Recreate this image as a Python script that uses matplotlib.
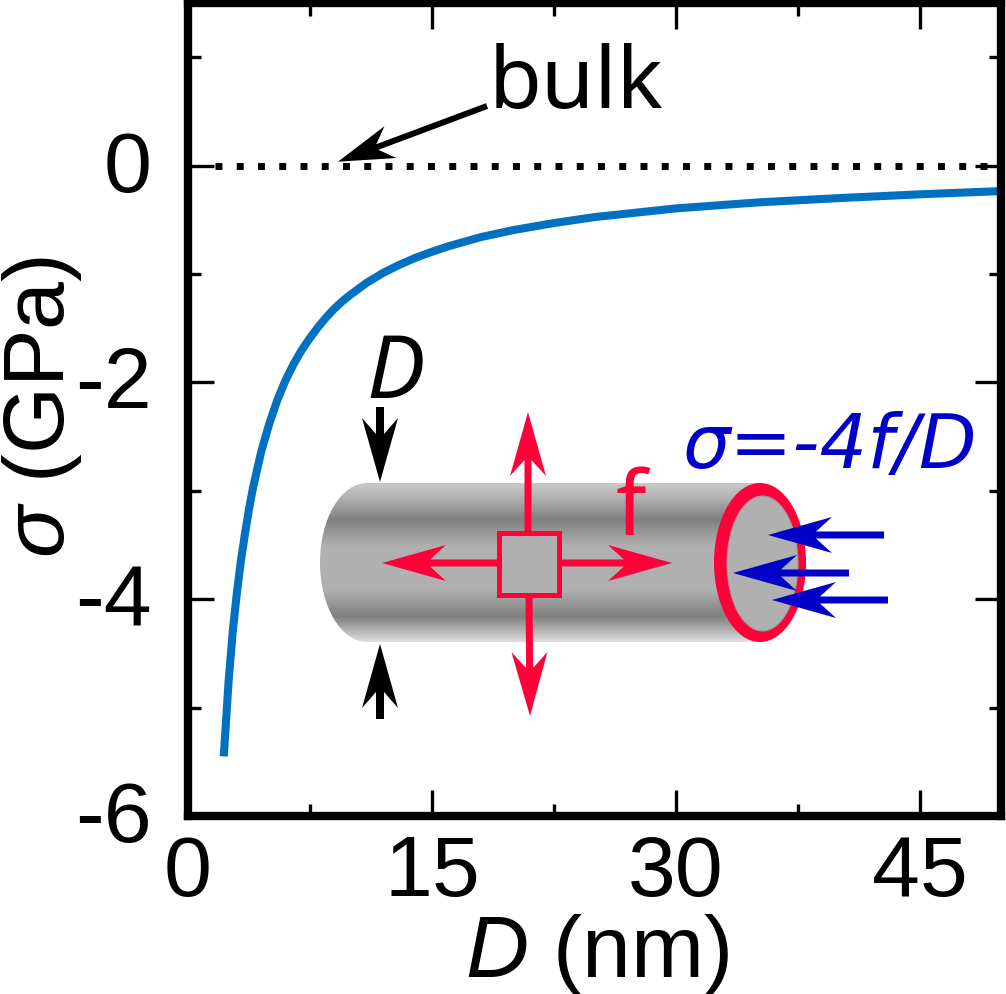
import numpy as np
import matplotlib
matplotlib.use("Agg")
import matplotlib.pyplot as plt
from matplotlib.patches import Ellipse, Polygon, Rectangle
from matplotlib.ticker import MultipleLocator
from matplotlib.transforms import ScaledTranslation

plt.rcParams["font.family"] = ["Liberation Sans", "DejaVu Sans"]
plt.rcParams["mathtext.fontset"] = "custom"
plt.rcParams["mathtext.rm"] = "Liberation Sans"
plt.rcParams["mathtext.it"] = "Liberation Sans:italic"
plt.rcParams["axes.unicode_minus"] = False

# --------------------------------------------------
# Values
# --------------------------------------------------
diameter = [2.2, 2.5, 2.75, 3, 3.25, 3.5, 3.75, 4, 4.5, 5, 5.5, 6, 6.5, 7, 7.5, 8, 8.5, 9, 9.5, 10, 11, 12,
            13, 14, 15, 16, 18, 20, 22.5, 25, 30, 35, 40, 45, 50]
stress = [-5.45, -4.75, -4.3, -3.95, -3.65, -3.4, -3.17, -2.97, -2.64, -2.38, -2.16, -1.98, -1.83, -1.70,
          -1.59, -1.49, -1.40, -1.32, -1.25, -1.19, -1.08, -0.99, -0.915, -0.85, -0.795, -0.745, -0.66,
          -0.595, -0.53, -0.475, -0.395, -0.34, -0.30, -0.265, -0.235]
bulk_x = [1.63, 50]
bulk_y = [0, 0]
x_ticks = [0, 15, 30, 45]
y_ticks = [-6, -4, -2, 0]

RED = "#FF0038"
BLUE = "#0000C8"
CURVE = "#0070C0"
W, H = 1006, 995

# --------------------------------------------------
# Main plot
# --------------------------------------------------
fig = plt.figure(figsize=(W / 100, H / 100), dpi=100)
ax = fig.add_axes([188 / W, (H - 817) / H, (1001 - 188) / W, (817 - 4) / H])
ax.plot(diameter, stress, color=CURVE, lw=5.8, solid_capstyle="butt", solid_joinstyle="round")
ax.plot(bulk_x, bulk_y, color="black", lw=5, ls=(0, (1, 2.06)), dash_capstyle="butt")
ax.set_xlim(0, 50)
ax.set_ylim(-6, 1.5)
ax.set_xticks(x_ticks)
ax.set_yticks(y_ticks)
ax.xaxis.set_minor_locator(MultipleLocator(7.5))
ax.yaxis.set_minor_locator(MultipleLocator(1))
ax.tick_params(which="major", direction="in", top=True, right=True, length=18.5, width=2.4, labelsize=62)
ax.tick_params(which="minor", direction="in", top=True, right=True, length=9, width=2.4)
ax.tick_params(axis="x", which="major", pad=12)
ax.tick_params(axis="y", which="major", pad=26)
lift = ScaledTranslation(0, 6 / 100, fig.dpi_scale_trans)
for label in ax.get_yticklabels():
    label.set_transform(label.get_transform() + lift)
for spine in ax.spines.values():
    spine.set_linewidth(6)

# --------------------------------------------------
# Overlay in pixel coordinates for the labels and the sketch
# --------------------------------------------------
ov = fig.add_axes([0, 0, 1, 1], facecolor="none")
ov.axis("off")


def arrow(tail, tip, color, shaft=7, head=64, notch=48, half=18):
    tail = np.array(tail, float)
    tip = np.array(tip, float)
    d = (tip - tail) / np.hypot(*(tip - tail))
    n = np.array([-d[1], d[0]])
    pts = [tail + n * shaft / 2, tip - d * notch + n * shaft / 2, tip - d * head + n * half, tip,
           tip - d * head - n * half, tip - d * notch - n * shaft / 2, tail - n * shaft / 2]
    ov.add_patch(Polygon(pts, closed=True, fc=color, ec="none", zorder=6))


# cylinder body with the banded shading
stops_y = [484, 495, 520, 547, 590, 617, 630, 643]
stops_c = [0.78, 0.72, 0.50, 0.69, 0.69, 0.50, 0.69, 0.88]
shade = np.interp(np.arange(484, 643), stops_y, stops_c).reshape(-1, 1)
ov.imshow(shade, cmap="gray", vmin=0, vmax=1, extent=(367, 760, 643, 484), aspect="auto", zorder=2)
cap = ov.imshow(shade, cmap="gray", vmin=0, vmax=1, extent=(320, 367, 643, 484), aspect="auto", zorder=2)
cap_clip = Ellipse((367, 563.5), 94, 159, transform=ov.transData)
cap.set_clip_path(cap_clip)

# end face, the ring is thicker on the left
ov.add_patch(Ellipse((760, 563.5), 92, 159, fc=RED, ec="none", zorder=3))
ov.add_patch(Ellipse((762.5, 564.5), 71, 135, fc="#B0B0B0", ec="#999999", lw=0.8, zorder=3))

# element with the surface stress
ov.add_patch(Rectangle((499.5, 533.5), 60, 62.5, fc="#B0B0B0", ec=RED, lw=3.6, zorder=5))
arrow((528, 532), (528, 413), RED)
arrow((529, 597), (530, 717), RED)
arrow((498, 564), (382, 564), RED)
arrow((560, 564), (672, 564), RED)

# diameter arrows and bulk pointer
arrow((380, 408), (380, 483), "black", shaft=8)
arrow((380, 720), (380, 645), "black", shaft=8)
arrow((487, 107), (338, 162.7), "black", shaft=6, head=56, notch=42, half=17)

# pressure arrows
arrow((884, 536), (768, 536), BLUE)
arrow((849, 574), (733, 574), BLUE)
arrow((888, 601), (772, 601), BLUE)

ov.text(576, 108, "bulk", fontsize=62, ha="center", va="baseline", family=["Noto Sans"])
ov.text(396, 398, "D", fontsize=63, ha="center", va="baseline", color="black", style="italic",
        family=["Noto Sans"])
ov.text(631, 535, "f", fontsize=64, ha="center", va="baseline", color=RED, family=["Noto Sans"])
ov.text(683, 468, "σ=-4f/D", fontsize=54, ha="left", va="baseline", color=BLUE, style="italic",
        family=["DejaVu Sans"])
ov.text(597, 977, r"$\mathit{D}$ (nm)", fontsize=63, ha="center", va="baseline")
ov.text(42, 407, r"$\mathit{σ}$ (GPa)", fontsize=62, ha="center", va="center", rotation=90)
ov.set_xlim(0, W)
ov.set_ylim(H, 0)

fig.savefig("out.png", dpi=100)
